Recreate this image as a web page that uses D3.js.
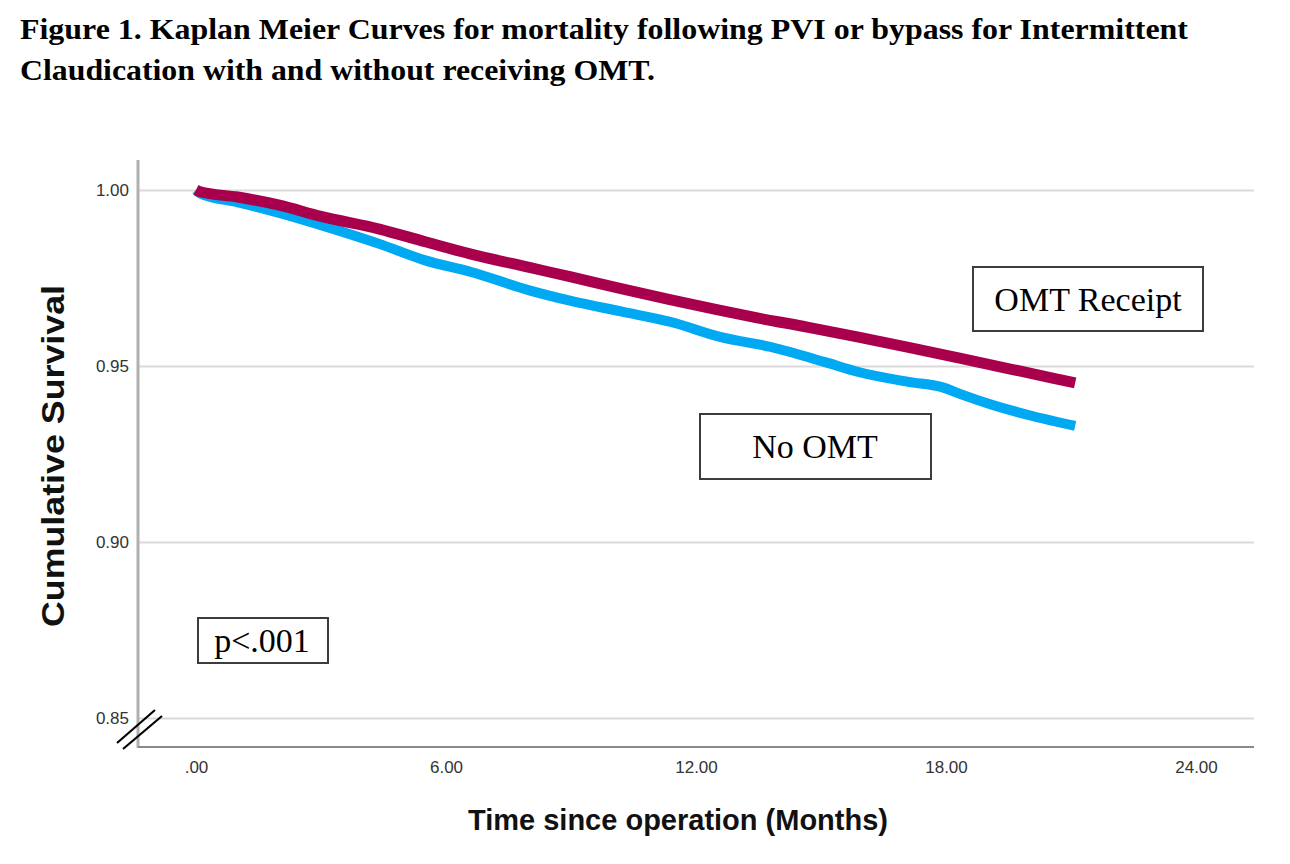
<!DOCTYPE html>
<html>
<head>
<meta charset="utf-8">
<script src="https://cdn.jsdelivr.net/npm/d3@7"></script>
<style>
  html, body { margin: 0; padding: 0; background: #fff; }
  svg { display: block; }
</style>
</head>
<body>
<svg id="chart" width="1290" height="864"></svg>
<script>
// ---- Data ----
const titleLines = [
  "Figure 1. Kaplan Meier Curves for mortality following PVI or bypass for Intermittent",
  "Claudication with and without receiving OMT."
];
const xTicks = [0, 6, 12, 18, 24];
const xTickLabels = [".00", "6.00", "12.00", "18.00", "24.00"];
const yTicks = [0.85, 0.90, 0.95, 1.00];
const yTickLabels = ["0.85", "0.90", "0.95", "1.00"];

const omtMonths = [0, 0.1, 1, 2, 3, 4.4, 5.5, 6.6, 8, 9, 10.2, 11.4, 12.5, 13.5, 14.7, 15.9, 17.1, 18.3, 19.6, 21.1];
const omtSurvival = [1.000, 0.9995, 0.998, 0.9957, 0.9925, 0.9889, 0.9853, 0.9818, 0.978, 0.9753, 0.972, 0.9688, 0.966, 0.9636, 0.961, 0.9582, 0.9553, 0.9523, 0.949, 0.9452];

const noOmtMonths = [0, 0.1, 1, 2, 3, 4.4, 5.5, 6.6, 8, 9, 10.2, 11.4, 12.6, 13.8, 15.1, 15.9, 17.1, 17.9, 18.4, 19.1, 20.0, 21.1];
const noOmtSurvival = [1.000, 0.999, 0.9965, 0.9935, 0.990, 0.9847, 0.980, 0.9767, 0.9715, 0.9685, 0.9655, 0.9625, 0.9582, 0.9554, 0.9511, 0.9483, 0.9455, 0.944, 0.9418, 0.939, 0.936, 0.933];

const seriesNames = ["OMT Receipt", "No OMT"];
const seriesColors = ["#A8004C", "#00A9F2"];
const pValueLabel = "p<.001";
const xLabel = "Time since operation (Months)";
const yLabel = "Cumulative Survival";

// ---- Layout ----
const svg = d3.select("#chart");
const axisLeftX = 138, axisRightX = 1254, axisTopY = 160, axisBottomY = 747;

const x = d3.scaleLinear().domain([0, 24]).range([196, 1196]);
const y = d3.scaleLinear().domain([0.85, 1.0]).range([718, 190]);

// Title
const title = svg.append("g").attr("font-family", "'Liberation Serif', 'Times New Roman', serif")
  .attr("font-weight", "bold").attr("font-size", 30).attr("fill", "#000");
title.append("text").attr("x", 20).attr("y", 39).attr("textLength", 1168).attr("lengthAdjust", "spacingAndGlyphs").text(titleLines[0]);
title.append("text").attr("x", 20).attr("y", 80).attr("textLength", 635).attr("lengthAdjust", "spacingAndGlyphs").text(titleLines[1]);

// Gridlines
const grid = svg.append("g").attr("transform", `translate(${axisLeftX},0)`)
  .call(d3.axisLeft(y).tickValues(yTicks).tickSize(-(axisRightX - axisLeftX)).tickFormat(""));
grid.select(".domain").remove();
grid.selectAll(".tick line").attr("stroke", "#d9d9d9").attr("stroke-width", 2);

// Y tick labels
const yAxis = svg.append("g").attr("transform", `translate(${axisLeftX - 9},0)`)
  .call(d3.axisLeft(y).tickValues(yTicks).tickSize(0).tickPadding(0)
    .tickFormat((d, i) => yTickLabels[i]));
yAxis.select(".domain").remove();
yAxis.selectAll("text").attr("font-family", "'Liberation Sans', Arial, sans-serif")
  .attr("font-size", 17).attr("fill", "#333");

// X tick labels
const xAxis = svg.append("g").attr("transform", `translate(0,${axisBottomY + 14})`)
  .call(d3.axisBottom(x).tickValues(xTicks).tickSize(0).tickPadding(0)
    .tickFormat((d, i) => xTickLabels[i]));
xAxis.select(".domain").remove();
xAxis.selectAll("text").attr("font-family", "'Liberation Sans', Arial, sans-serif")
  .attr("font-size", 17).attr("fill", "#333");

// Axis lines
svg.append("line").attr("x1", axisLeftX).attr("x2", axisLeftX).attr("y1", axisTopY).attr("y2", axisBottomY + 1)
  .attr("stroke", "#b0b0b0").attr("stroke-width", 3);
svg.append("line").attr("x1", axisLeftX).attr("x2", axisRightX).attr("y1", axisBottomY).attr("y2", axisBottomY)
  .attr("stroke", "#8a8a8a").attr("stroke-width", 2);

// Axis break marks
const brk = svg.append("g").attr("stroke", "#000").attr("stroke-width", 2.2);
brk.append("line").attr("x1", 117).attr("y1", 743).attr("x2", 155).attr("y2", 710);
brk.append("line").attr("x1", 123).attr("y1", 749).attr("x2", 162).attr("y2", 716);

// Survival curves
const line = d3.line().x(d => x(d[0])).y(d => y(d[1])).curve(d3.curveMonotoneX);
const omtData = omtMonths.map((m, i) => [m, omtSurvival[i]]);
const noOmtData = noOmtMonths.map((m, i) => [m, noOmtSurvival[i]]);

svg.append("path").datum(noOmtData).attr("d", line).attr("fill", "none")
  .attr("stroke", seriesColors[1]).attr("stroke-width", 10).attr("stroke-linejoin", "round");
svg.append("path").datum(omtData).attr("d", line).attr("fill", "none")
  .attr("stroke", seriesColors[0]).attr("stroke-width", 11).attr("stroke-linejoin", "round");

// Annotation boxes
function box(text, bx, by, bw, bh, tx, ty, size) {
  const g = svg.append("g");
  g.append("rect").attr("x", bx).attr("y", by).attr("width", bw).attr("height", bh)
    .attr("fill", "#fff").attr("stroke", "#3c3c3c").attr("stroke-width", 2);
  g.append("text").attr("x", tx).attr("y", ty).attr("text-anchor", "middle")
    .attr("font-family", "'Liberation Serif', 'Times New Roman', serif")
    .attr("font-size", size).attr("fill", "#000").text(text);
}
box(seriesNames[0], 973, 267, 230, 64, 1088, 311, 34);
box(seriesNames[1], 700, 414, 231, 65, 815, 458, 34);
box(pValueLabel, 198, 618, 130, 45, 262, 652, 34);

// Axis titles
svg.append("text").attr("x", 678).attr("y", 830).attr("text-anchor", "middle")
  .attr("font-family", "'Liberation Sans', Arial, sans-serif").attr("font-weight", "bold")
  .attr("font-size", 29).attr("fill", "#111").text(xLabel);
svg.append("text").attr("transform", "translate(64,456) rotate(-90)").attr("text-anchor", "middle")
  .attr("font-family", "'Liberation Sans', Arial, sans-serif").attr("font-weight", "bold")
  .attr("font-size", 31).attr("textLength", 342).attr("lengthAdjust", "spacingAndGlyphs")
  .attr("fill", "#111").text(yLabel);
</script>
</body>
</html>
